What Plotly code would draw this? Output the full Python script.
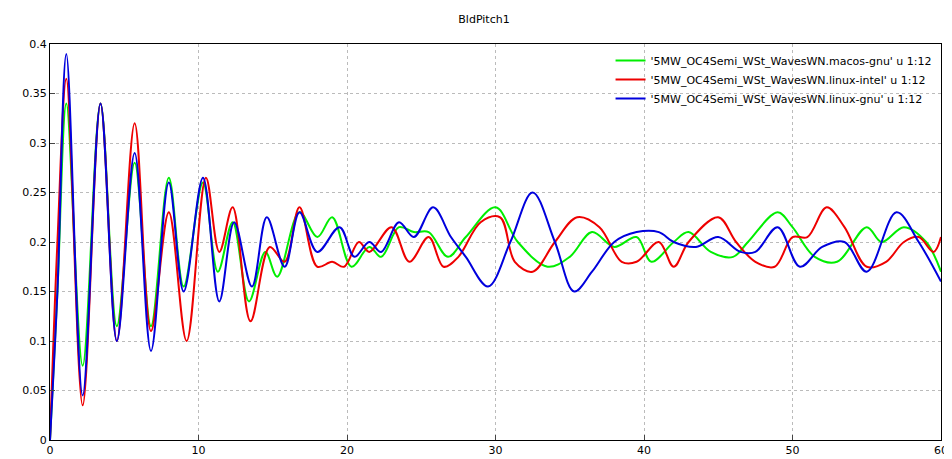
import plotly.graph_objects as go

green_t = [0,0.5,1.1,2.2,3.4,4.5,5.7,6.8,8,9,10.3,11.3,12.3,13.4,14.5,15.3,16.8,18,19,20.3,21.5,22.3,23.5,24.5,25.5,26.8,28,30,31.5,33.5,35,36.5,38,39.5,40.5,42,43,44.5,46,47,49,50,51.5,53,55,56,57.5,59,60]
green_v = [0,0.15,0.34,0.075,0.34,0.115,0.28,0.115,0.265,0.155,0.26,0.17,0.22,0.14,0.19,0.165,0.23,0.205,0.225,0.175,0.195,0.185,0.215,0.21,0.21,0.185,0.205,0.235,0.2,0.175,0.185,0.21,0.195,0.205,0.18,0.2,0.21,0.19,0.185,0.2,0.23,0.215,0.185,0.18,0.215,0.2,0.215,0.2,0.17]
red_t = [0,0.5,1.1,2.2,3.4,4.5,5.7,6.8,8,9.2,10.5,11.4,12.3,13.5,14.8,15.8,16.8,18,19,19.8,20.8,21.5,23,24.2,25.5,26.5,27.5,29,30.3,31.3,32.5,34,35.5,37,38.5,39.5,41,42,43,45,46.2,47.5,48.8,50,51,52.3,53.5,55,56.3,57.5,58.5,59.5,60]
red_v = [0,0.2,0.365,0.035,0.34,0.1,0.32,0.11,0.23,0.1,0.265,0.19,0.235,0.12,0.195,0.18,0.235,0.175,0.18,0.175,0.2,0.19,0.215,0.18,0.205,0.175,0.185,0.22,0.225,0.18,0.17,0.2,0.225,0.215,0.18,0.18,0.2,0.175,0.2,0.225,0.2,0.18,0.175,0.205,0.205,0.235,0.215,0.175,0.18,0.2,0.205,0.19,0.205]
blue_t = [0,0.5,1.1,2.2,3.4,4.5,5.7,6.8,8,9,10.3,11.4,12.4,13.6,14.6,15.8,16.8,18,19.5,20.5,21.5,22.3,23.5,24.5,25.8,27,28,29.5,31,32.5,34,35.3,36.5,38,39.5,41,42,43.5,45,46.5,47.5,49,50.5,52,53.5,55,57,58.5,60]
blue_v = [0,0.15,0.39,0.045,0.34,0.1,0.29,0.09,0.26,0.15,0.265,0.14,0.22,0.155,0.225,0.175,0.23,0.19,0.215,0.185,0.2,0.19,0.22,0.205,0.235,0.205,0.185,0.155,0.2,0.25,0.2,0.15,0.17,0.2,0.21,0.21,0.2,0.195,0.205,0.19,0.19,0.215,0.175,0.195,0.2,0.17,0.23,0.2,0.16]

names = ["'5MW_OC4Semi_WSt_WavesWN.macos-gnu' u 1:12",
         "'5MW_OC4Semi_WSt_WavesWN.linux-intel' u 1:12",
         "'5MW_OC4Semi_WSt_WavesWN.linux-gnu' u 1:12"]

fig = go.Figure()
for t, v, c, n in [(green_t, green_v, "#00ee00", names[0]), (red_t, red_v, "#ee0000", names[1]), (blue_t, blue_v, "#0000dd", names[2])]:
    fig.add_trace(go.Scatter(x=t, y=v, mode="lines", name=n,
                             line=dict(color=c, width=2, shape="spline", smoothing=1.0)))

fig.update_layout(
    width=952, height=459, plot_bgcolor="white", paper_bgcolor="white",
    margin=dict(l=42, r=19, t=36, b=27, autoexpand=False),
    font=dict(family="DejaVu Sans, Liberation Sans", size=11, color="black"),
    title=dict(text="BldPitch1", x=0.5, xanchor="center", y=0.985, yanchor="top",
               font=dict(size=11), automargin=False),
    legend=dict(x=0.995, y=0.995, xanchor="right", yanchor="top", bgcolor="rgba(0,0,0,0)",
                tracegroupgap=0, font=dict(size=11)),
    xaxis=dict(range=[0, 60], dtick=10, showgrid=True, gridcolor="#bbbbbb", griddash="dot",
               showline=True, linecolor="black", mirror=True, ticks="inside", zeroline=False, automargin=False),
    yaxis=dict(range=[0, 0.4], dtick=0.05, showgrid=True, gridcolor="#bbbbbb", griddash="dot",
               showline=True, linecolor="black", mirror=True, ticks="inside", zeroline=False, automargin=False),
)
fig.write_html("out.html")
